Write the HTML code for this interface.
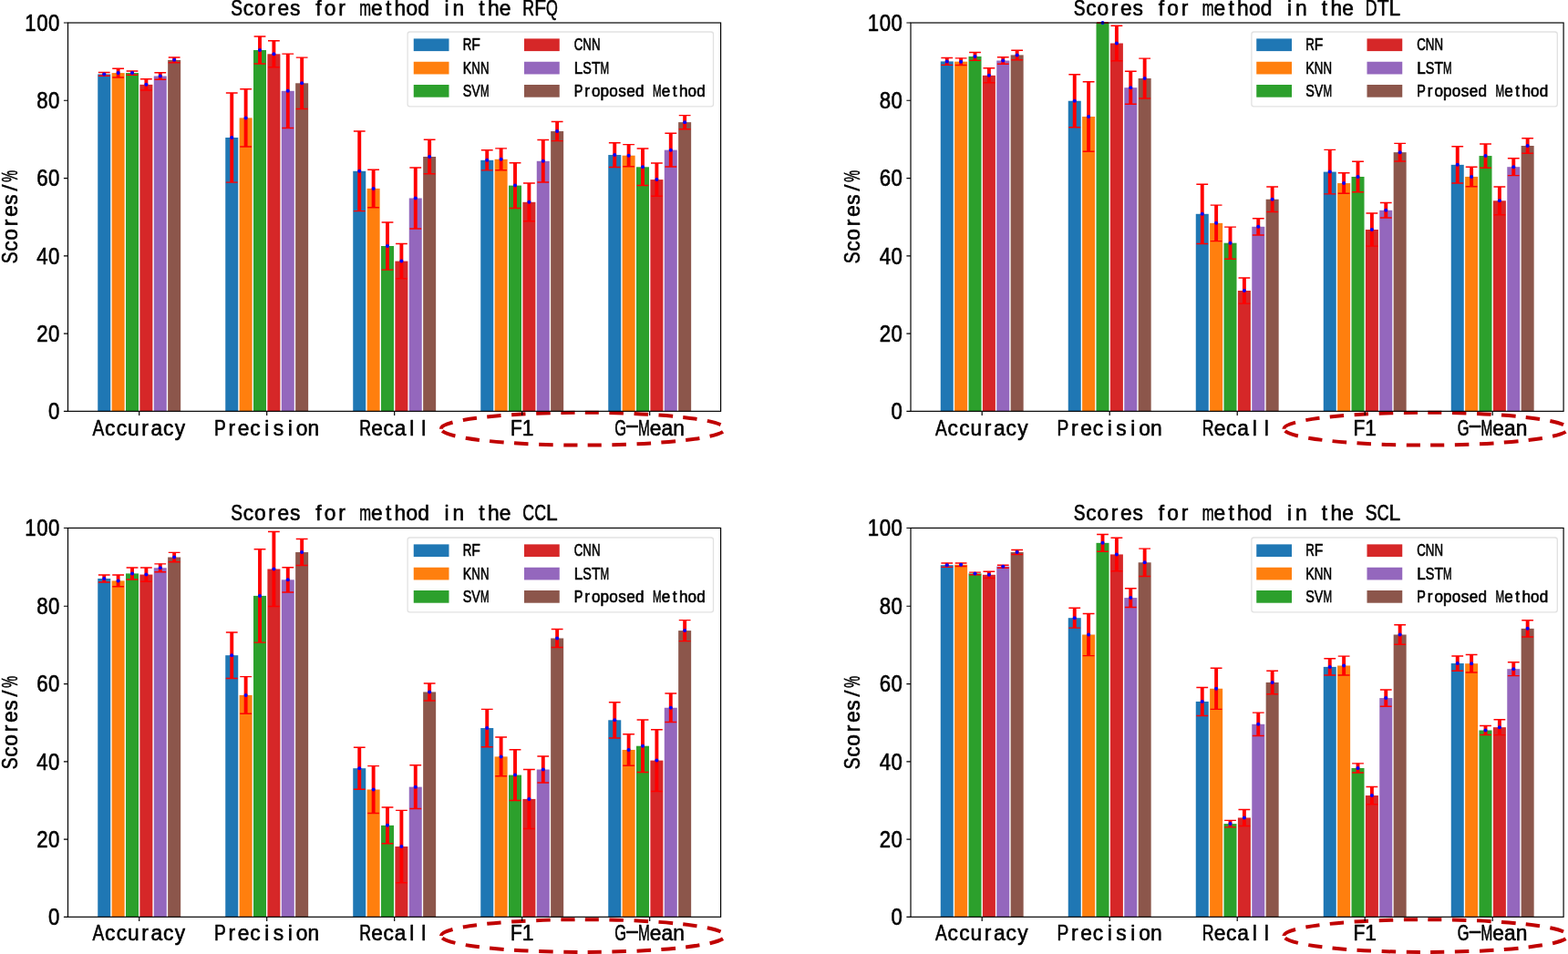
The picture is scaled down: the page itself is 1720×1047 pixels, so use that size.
<!DOCTYPE html>
<html lang="en"><head><meta charset="utf-8"><title>Scores for method</title>
<style>html,body{margin:0;padding:0;background:#fff}body{width:1720px;height:1047px;overflow:hidden}svg{display:block}.t text{font-family:"Liberation Sans", sans-serif;fill:#000;stroke:#000;stroke-width:0.62;stroke-linejoin:round;white-space:pre}</style>
</head><body>
<svg width="1720" height="1047" viewBox="0 0 1720 1047" role="img" aria-label="Scores for method in the RFQ, DTL, CCL and SCL">
<rect width="1720" height="1047" fill="#fff"/>
<g>
<g>
<rect x="107.25" y="81.4" width="14" height="369.95" fill="#1f77b4"/>
<rect x="247.25" y="151" width="14" height="300.35" fill="#1f77b4"/>
<rect x="387.25" y="187.8" width="14" height="263.55" fill="#1f77b4"/>
<rect x="527.25" y="175.8" width="14" height="275.55" fill="#1f77b4"/>
<rect x="667.25" y="170.05" width="14" height="281.3" fill="#1f77b4"/>
<rect x="122.63" y="80.1" width="14" height="371.25" fill="#ff7f0e"/>
<rect x="262.63" y="129.4" width="14" height="321.95" fill="#ff7f0e"/>
<rect x="402.63" y="206.9" width="14" height="244.45" fill="#ff7f0e"/>
<rect x="542.63" y="174.8" width="14" height="276.55" fill="#ff7f0e"/>
<rect x="682.63" y="170.7" width="14" height="280.65" fill="#ff7f0e"/>
<rect x="138.01" y="80.05" width="14" height="371.3" fill="#2ca02c"/>
<rect x="278.01" y="55" width="14" height="396.35" fill="#2ca02c"/>
<rect x="418.01" y="270" width="14" height="181.35" fill="#2ca02c"/>
<rect x="558.01" y="203.6" width="14" height="247.75" fill="#2ca02c"/>
<rect x="698.01" y="183.3" width="14" height="268.05" fill="#2ca02c"/>
<rect x="153.39" y="92.85" width="14" height="358.5" fill="#d62728"/>
<rect x="293.39" y="59.3" width="14" height="392.05" fill="#d62728"/>
<rect x="433.39" y="286.6" width="14" height="164.75" fill="#d62728"/>
<rect x="573.39" y="221.8" width="14" height="229.55" fill="#d62728"/>
<rect x="713.39" y="197.1" width="14" height="254.25" fill="#d62728"/>
<rect x="168.77" y="83.5" width="14" height="367.85" fill="#9467bd"/>
<rect x="308.77" y="99.8" width="14" height="351.55" fill="#9467bd"/>
<rect x="448.77" y="217.5" width="14" height="233.85" fill="#9467bd"/>
<rect x="588.77" y="176.8" width="14" height="274.55" fill="#9467bd"/>
<rect x="728.77" y="164.65" width="14" height="286.7" fill="#9467bd"/>
<rect x="184.15" y="65.85" width="14" height="385.5" fill="#8c564b"/>
<rect x="324.15" y="91.3" width="14" height="360.05" fill="#8c564b"/>
<rect x="464.15" y="172" width="14" height="279.35" fill="#8c564b"/>
<rect x="604.15" y="144.05" width="14" height="307.3" fill="#8c564b"/>
<rect x="744.15" y="134.15" width="14" height="317.2" fill="#8c564b"/>
</g>
<path d="M483.8 470.65A155.92 17.9 0 1 1 795.64 470.65A155.92 17.9 0 1 1 483.8 470.65" fill="none" stroke="#c00000" stroke-width="4" stroke-dasharray="15.33 11.53" stroke-dashoffset="0"/>
<g stroke="#f00" fill="none">
<path stroke-width="3.9" d="M114.25 79.47V83.33M254.25 101.9V200.1M394.25 144V231.6M534.25 164.75V186.85M674.25 156.65V183.45M129.63 75.17V85.03M269.63 97.8V161M409.63 186.15V227.65M549.63 162.85V186.75M689.63 158.6V182.8M145.01 77.92V82.18M285.01 40V70M425.01 243.9V296.1M565.01 178.7V228.5M705.01 163.05V203.55M160.39 86.75V98.95M300.39 44.8V73.8M440.39 267.5V305.7M580.39 200.9V242.7M720.39 179V215.2M175.77 79.8V87.2M315.77 59.1V140.5M455.77 184.05V250.95M595.77 153.55V200.05M735.77 146.25V183.05M191.15 63V68.7M331.15 63.1V119.5M471.15 153.2V190.8M611.15 133.5V154.6M751.15 126.6V141.7"/>
<path stroke-width="1.45" d="M107.85 79.47h12.8M107.85 83.33h12.8M247.85 101.9h12.8M247.85 200.1h12.8M387.85 144h12.8M387.85 231.6h12.8M527.85 164.75h12.8M527.85 186.85h12.8M667.85 156.65h12.8M667.85 183.45h12.8M123.23 75.17h12.8M123.23 85.03h12.8M263.23 97.8h12.8M263.23 161h12.8M403.23 186.15h12.8M403.23 227.65h12.8M543.23 162.85h12.8M543.23 186.75h12.8M683.23 158.6h12.8M683.23 182.8h12.8M138.61 77.92h12.8M138.61 82.18h12.8M278.61 40h12.8M278.61 70h12.8M418.61 243.9h12.8M418.61 296.1h12.8M558.61 178.7h12.8M558.61 228.5h12.8M698.61 163.05h12.8M698.61 203.55h12.8M153.99 86.75h12.8M153.99 98.95h12.8M293.99 44.8h12.8M293.99 73.8h12.8M433.99 267.5h12.8M433.99 305.7h12.8M573.99 200.9h12.8M573.99 242.7h12.8M713.99 179h12.8M713.99 215.2h12.8M169.37 79.8h12.8M169.37 87.2h12.8M309.37 59.1h12.8M309.37 140.5h12.8M449.37 184.05h12.8M449.37 250.95h12.8M589.37 153.55h12.8M589.37 200.05h12.8M729.37 146.25h12.8M729.37 183.05h12.8M184.75 63h12.8M184.75 68.7h12.8M324.75 63.1h12.8M324.75 119.5h12.8M464.75 153.2h12.8M464.75 190.8h12.8M604.75 133.5h12.8M604.75 154.6h12.8M744.75 126.6h12.8M744.75 141.7h12.8"/>
</g>
<g fill="#00f">
<circle cx="114.25" cy="81.4" r="2"/>
<circle cx="254.25" cy="151" r="2"/>
<circle cx="394.25" cy="187.8" r="2"/>
<circle cx="534.25" cy="175.8" r="2"/>
<circle cx="674.25" cy="170.05" r="2"/>
<circle cx="129.63" cy="80.1" r="2"/>
<circle cx="269.63" cy="129.4" r="2"/>
<circle cx="409.63" cy="206.9" r="2"/>
<circle cx="549.63" cy="174.8" r="2"/>
<circle cx="689.63" cy="170.7" r="2"/>
<circle cx="145.01" cy="80.05" r="2"/>
<circle cx="285.01" cy="55" r="2"/>
<circle cx="425.01" cy="270" r="2"/>
<circle cx="565.01" cy="203.6" r="2"/>
<circle cx="705.01" cy="183.3" r="2"/>
<circle cx="160.39" cy="92.85" r="2"/>
<circle cx="300.39" cy="59.3" r="2"/>
<circle cx="440.39" cy="286.6" r="2"/>
<circle cx="580.39" cy="221.8" r="2"/>
<circle cx="720.39" cy="197.1" r="2"/>
<circle cx="175.77" cy="83.5" r="2"/>
<circle cx="315.77" cy="99.8" r="2"/>
<circle cx="455.77" cy="217.5" r="2"/>
<circle cx="595.77" cy="176.8" r="2"/>
<circle cx="735.77" cy="164.65" r="2"/>
<circle cx="191.15" cy="65.85" r="2"/>
<circle cx="331.15" cy="91.3" r="2"/>
<circle cx="471.15" cy="172" r="2"/>
<circle cx="611.15" cy="144.05" r="2"/>
<circle cx="751.15" cy="134.15" r="2"/>
</g>
<path d="M152.7 451.35v4.6M292.7 451.35v4.6M432.7 451.35v4.6M572.7 451.35v4.6M712.7 451.35v4.6M74.5 451.35h-4.6M74.5 366.08h-4.6M74.5 280.81h-4.6M74.5 195.54h-4.6M74.5 110.27h-4.6M74.5 25h-4.6" stroke="#000" stroke-width="1.18" fill="none"/>
<rect x="74.5" y="25" width="716.1" height="426.35" fill="none" stroke="#000" stroke-width="1.18"/>
<rect x="447.1" y="35" width="335.4" height="81.9" rx="2.6" fill="#fff" fill-opacity="0.8" stroke="#d9d9d9" stroke-opacity="0.8" stroke-width="1.28"/>
<rect x="453.75" y="42.4" width="38.75" height="13.7" fill="#1f77b4"/>
<rect x="453.75" y="67.75" width="38.75" height="13.7" fill="#ff7f0e"/>
<rect x="453.75" y="93" width="38.75" height="13.7" fill="#2ca02c"/>
<rect x="575" y="42.4" width="38.75" height="13.7" fill="#d62728"/>
<rect x="575" y="67.75" width="38.75" height="13.7" fill="#9467bd"/>
<rect x="575" y="93" width="38.75" height="13.7" fill="#8c564b"/>
<g class="t">
<text transform="translate(507.7 55.3) scale(0.93 1)" x="0 10.32" font-size="18.4"><tspan textLength="10.32" lengthAdjust="spacingAndGlyphs">R</tspan><tspan textLength="10.32" lengthAdjust="spacingAndGlyphs">F</tspan></text>
<text transform="translate(507.7 80.6) scale(0.93 1)" x="0 10.32 20.65" font-size="18.4"><tspan textLength="10.32" lengthAdjust="spacingAndGlyphs">K</tspan><tspan textLength="10.32" lengthAdjust="spacingAndGlyphs">N</tspan><tspan textLength="10.32" lengthAdjust="spacingAndGlyphs">N</tspan></text>
<text transform="translate(507.7 106.3) scale(0.93 1)" x="0 10.32 20.65" font-size="18.4"><tspan textLength="10.32" lengthAdjust="spacingAndGlyphs">S</tspan><tspan textLength="10.32" lengthAdjust="spacingAndGlyphs">V</tspan><tspan textLength="10.32" lengthAdjust="spacingAndGlyphs">M</tspan></text>
<text transform="translate(629.7 55.3) scale(0.93 1)" x="0 10.32 20.65" font-size="18.4"><tspan textLength="10.32" lengthAdjust="spacingAndGlyphs">C</tspan><tspan textLength="10.32" lengthAdjust="spacingAndGlyphs">N</tspan><tspan textLength="10.32" lengthAdjust="spacingAndGlyphs">N</tspan></text>
<text transform="translate(629.7 80.6) scale(0.93 1)" x="0.04 10.32 20.65 30.97" font-size="18.4">L<tspan textLength="10.32" lengthAdjust="spacingAndGlyphs">S</tspan><tspan textLength="10.32" lengthAdjust="spacingAndGlyphs">T</tspan><tspan textLength="10.32" lengthAdjust="spacingAndGlyphs">M</tspan></text>
<text transform="translate(629.7 106.3) scale(0.93 1)" x="0 12.42 20.69 31.01 41.34 52.17 61.98 72.3 85.19 92.9 103.27 116.15 123.92 134.24 144.56" font-size="18.4"><tspan textLength="10.32" lengthAdjust="spacingAndGlyphs">P</tspan>roposed <tspan textLength="10.32" lengthAdjust="spacingAndGlyphs">M</tspan>ethod</text>
<text transform="translate(432.55 16.6) scale(0.93 1)" x="-192.69 -178.17 -165.09 -148.6 -137.57 -123.11 -106.63 -92.87 -82.51 -66.01 -51.58 -41.29 -27.46 -10.29 0.07 13.83 27.6 44.77 59.21 68.89 86.06 99.82 110.18 123.94 141.11 151.4 165.16 178.92" font-size="24.5"><tspan textLength="13.76" lengthAdjust="spacingAndGlyphs">S</tspan>cores for <tspan textLength="13.76" lengthAdjust="spacingAndGlyphs">m</tspan>ethod in the <tspan textLength="13.76" lengthAdjust="spacingAndGlyphs">R</tspan><tspan textLength="13.76" lengthAdjust="spacingAndGlyphs">F</tspan><tspan textLength="13.76" lengthAdjust="spacingAndGlyphs">Q</tspan></text>
<text transform="translate(152.7 477.95) scale(0.93 1)" x="-55.05 -40.53 -26.77 -13.69 2.8 13.83 28.28 42.05" font-size="24.5"><tspan textLength="13.76" lengthAdjust="spacingAndGlyphs">A</tspan>ccuracy</text>
<text transform="translate(292.7 477.95) scale(0.93 1)" x="-61.94 -45.37 -34.34 -19.89 -2.72 7.64 24.81 34.48 48.24" font-size="24.5"><tspan textLength="13.76" lengthAdjust="spacingAndGlyphs">P</tspan>recision</text>
<text transform="translate(432.7 477.95) scale(0.93 1)" x="-41.29 -27.46 -13.01 0.07 17.92 31.69" font-size="24.5"><tspan textLength="13.76" lengthAdjust="spacingAndGlyphs">R</tspan>ecall</text>
<text transform="translate(572.7 477.95) scale(0.93 1)" x="-13.76 0.07" font-size="24.5"><tspan textLength="13.76" lengthAdjust="spacingAndGlyphs">F</tspan>1</text>
<text transform="translate(712.7 477.95) scale(0.93 1)" x="-41.29 -29.25 -13.76 0.07 13.83 27.6" y="0 -3.55 0 0 0 0" font-size="24.5"><tspan textLength="13.76" lengthAdjust="spacingAndGlyphs">G</tspan><tspan textLength="17.2" lengthAdjust="spacingAndGlyphs">-</tspan><tspan textLength="13.76" lengthAdjust="spacingAndGlyphs">M</tspan>ean</text>
<text transform="translate(65.5 460.15) scale(0.87 1)" x="-14.45" font-size="25.5">0</text>
<text transform="translate(65.5 374.88) scale(0.87 1)" x="-29.16 -14.45" font-size="25.5">20</text>
<text transform="translate(65.5 289.61) scale(0.87 1)" x="-29.16 -14.45" font-size="25.5">40</text>
<text transform="translate(65.5 204.34) scale(0.87 1)" x="-29.16 -14.45" font-size="25.5">60</text>
<text transform="translate(65.5 119.07) scale(0.87 1)" x="-29.16 -14.45" font-size="25.5">80</text>
<text transform="translate(65.5 33.8) scale(0.87 1)" x="-43.87 -29.16 -14.45" font-size="25.5">100</text>
<text transform="translate(18.5 238.18) rotate(-90) scale(0.93 1)" x="-55.05 -40.53 -27.46 -10.96 0.07 14.52 30.28 41.29" font-size="24.5"><tspan textLength="13.76" lengthAdjust="spacingAndGlyphs">S</tspan>cores<tspan textLength="8.26" lengthAdjust="spacingAndGlyphs" stroke-width="0.15">/</tspan><tspan textLength="13.76" lengthAdjust="spacingAndGlyphs">%</tspan></text>
</g>
</g>
<g>
<g>
<rect x="1031.75" y="67.4" width="14" height="383.95" fill="#1f77b4"/>
<rect x="1171.75" y="110.75" width="14" height="340.6" fill="#1f77b4"/>
<rect x="1311.75" y="234.8" width="14" height="216.55" fill="#1f77b4"/>
<rect x="1451.75" y="188.6" width="14" height="262.75" fill="#1f77b4"/>
<rect x="1591.75" y="180.85" width="14" height="270.5" fill="#1f77b4"/>
<rect x="1047.13" y="67.65" width="14" height="383.7" fill="#ff7f0e"/>
<rect x="1187.13" y="128" width="14" height="323.35" fill="#ff7f0e"/>
<rect x="1327.13" y="244.85" width="14" height="206.5" fill="#ff7f0e"/>
<rect x="1467.13" y="201.05" width="14" height="250.3" fill="#ff7f0e"/>
<rect x="1607.13" y="193.95" width="14" height="257.4" fill="#ff7f0e"/>
<rect x="1062.51" y="61.95" width="14" height="389.4" fill="#2ca02c"/>
<rect x="1202.51" y="25" width="14" height="426.35" fill="#2ca02c"/>
<rect x="1342.51" y="266.7" width="14" height="184.65" fill="#2ca02c"/>
<rect x="1482.51" y="194" width="14" height="257.35" fill="#2ca02c"/>
<rect x="1622.51" y="171.05" width="14" height="280.3" fill="#2ca02c"/>
<rect x="1077.89" y="82.8" width="14" height="368.55" fill="#d62728"/>
<rect x="1217.89" y="47.5" width="14" height="403.85" fill="#d62728"/>
<rect x="1357.89" y="319" width="14" height="132.35" fill="#d62728"/>
<rect x="1497.89" y="252" width="14" height="199.35" fill="#d62728"/>
<rect x="1637.89" y="220.3" width="14" height="231.05" fill="#d62728"/>
<rect x="1093.27" y="66.5" width="14" height="384.85" fill="#9467bd"/>
<rect x="1233.27" y="96.2" width="14" height="355.15" fill="#9467bd"/>
<rect x="1373.27" y="248.8" width="14" height="202.55" fill="#9467bd"/>
<rect x="1513.27" y="230.8" width="14" height="220.55" fill="#9467bd"/>
<rect x="1653.27" y="183.2" width="14" height="268.15" fill="#9467bd"/>
<rect x="1108.65" y="60.4" width="14" height="390.95" fill="#8c564b"/>
<rect x="1248.65" y="86" width="14" height="365.35" fill="#8c564b"/>
<rect x="1388.65" y="218.75" width="14" height="232.6" fill="#8c564b"/>
<rect x="1528.65" y="167.15" width="14" height="284.2" fill="#8c564b"/>
<rect x="1668.65" y="160" width="14" height="291.35" fill="#8c564b"/>
</g>
<path d="M1408.3 470.65A155.92 17.9 0 1 1 1720.14 470.65A155.92 17.9 0 1 1 1408.3 470.65" fill="none" stroke="#c00000" stroke-width="4" stroke-dasharray="15.33 11.53" stroke-dashoffset="0"/>
<g stroke="#f00" fill="none">
<path stroke-width="3.9" d="M1038.75 63.45V71.35M1178.75 81.75V139.75M1318.75 202.2V267.4M1458.75 164.35V212.85M1598.75 160.65V201.05M1054.13 63.85V71.45M1194.13 89.75V166.25M1334.13 225.1V264.6M1474.13 189.8V212.3M1614.13 183.2V204.7M1069.51 57.55V66.35M1349.51 249.1V284.3M1489.51 177.2V210.8M1629.51 157.95V184.15M1084.89 74.8V90.8M1224.89 28.25V66.75M1364.89 304.9V333.1M1504.89 233.9V270.1M1644.89 204.9V235.7M1100.27 62.75V70.25M1240.27 78.15V114.25M1380.27 239.7V257.9M1520.27 222.55V239.05M1660.27 173.8V192.6M1115.65 55.15V65.65M1255.65 64.1V107.9M1395.65 205V232.5M1535.65 157.35V176.95M1675.65 151.7V168.3"/>
<path stroke-width="1.45" d="M1032.35 63.45h12.8M1032.35 71.35h12.8M1172.35 81.75h12.8M1172.35 139.75h12.8M1312.35 202.2h12.8M1312.35 267.4h12.8M1452.35 164.35h12.8M1452.35 212.85h12.8M1592.35 160.65h12.8M1592.35 201.05h12.8M1047.73 63.85h12.8M1047.73 71.45h12.8M1187.73 89.75h12.8M1187.73 166.25h12.8M1327.73 225.1h12.8M1327.73 264.6h12.8M1467.73 189.8h12.8M1467.73 212.3h12.8M1607.73 183.2h12.8M1607.73 204.7h12.8M1063.11 57.55h12.8M1063.11 66.35h12.8M1203.11 25h12.8M1203.11 25h12.8M1343.11 249.1h12.8M1343.11 284.3h12.8M1483.11 177.2h12.8M1483.11 210.8h12.8M1623.11 157.95h12.8M1623.11 184.15h12.8M1078.49 74.8h12.8M1078.49 90.8h12.8M1218.49 28.25h12.8M1218.49 66.75h12.8M1358.49 304.9h12.8M1358.49 333.1h12.8M1498.49 233.9h12.8M1498.49 270.1h12.8M1638.49 204.9h12.8M1638.49 235.7h12.8M1093.87 62.75h12.8M1093.87 70.25h12.8M1233.87 78.15h12.8M1233.87 114.25h12.8M1373.87 239.7h12.8M1373.87 257.9h12.8M1513.87 222.55h12.8M1513.87 239.05h12.8M1653.87 173.8h12.8M1653.87 192.6h12.8M1109.25 55.15h12.8M1109.25 65.65h12.8M1249.25 64.1h12.8M1249.25 107.9h12.8M1389.25 205h12.8M1389.25 232.5h12.8M1529.25 157.35h12.8M1529.25 176.95h12.8M1669.25 151.7h12.8M1669.25 168.3h12.8"/>
</g>
<g fill="#00f">
<circle cx="1038.75" cy="67.4" r="2"/>
<circle cx="1178.75" cy="110.75" r="2"/>
<circle cx="1318.75" cy="234.8" r="2"/>
<circle cx="1458.75" cy="188.6" r="2"/>
<circle cx="1598.75" cy="180.85" r="2"/>
<circle cx="1054.13" cy="67.65" r="2"/>
<circle cx="1194.13" cy="128" r="2"/>
<circle cx="1334.13" cy="244.85" r="2"/>
<circle cx="1474.13" cy="201.05" r="2"/>
<circle cx="1614.13" cy="193.95" r="2"/>
<circle cx="1069.51" cy="61.95" r="2"/>
<circle cx="1209.51" cy="25" r="2"/>
<circle cx="1349.51" cy="266.7" r="2"/>
<circle cx="1489.51" cy="194" r="2"/>
<circle cx="1629.51" cy="171.05" r="2"/>
<circle cx="1084.89" cy="82.8" r="2"/>
<circle cx="1224.89" cy="47.5" r="2"/>
<circle cx="1364.89" cy="319" r="2"/>
<circle cx="1504.89" cy="252" r="2"/>
<circle cx="1644.89" cy="220.3" r="2"/>
<circle cx="1100.27" cy="66.5" r="2"/>
<circle cx="1240.27" cy="96.2" r="2"/>
<circle cx="1380.27" cy="248.8" r="2"/>
<circle cx="1520.27" cy="230.8" r="2"/>
<circle cx="1660.27" cy="183.2" r="2"/>
<circle cx="1115.65" cy="60.4" r="2"/>
<circle cx="1255.65" cy="86" r="2"/>
<circle cx="1395.65" cy="218.75" r="2"/>
<circle cx="1535.65" cy="167.15" r="2"/>
<circle cx="1675.65" cy="160" r="2"/>
</g>
<path d="M1077.2 451.35v4.6M1217.2 451.35v4.6M1357.2 451.35v4.6M1497.2 451.35v4.6M1637.2 451.35v4.6M999 451.35h-4.6M999 366.08h-4.6M999 280.81h-4.6M999 195.54h-4.6M999 110.27h-4.6M999 25h-4.6" stroke="#000" stroke-width="1.18" fill="none"/>
<rect x="999" y="25" width="716.1" height="426.35" fill="none" stroke="#000" stroke-width="1.18"/>
<rect x="1372.9" y="35" width="335.4" height="81.9" rx="2.6" fill="#fff" fill-opacity="0.8" stroke="#d9d9d9" stroke-opacity="0.8" stroke-width="1.28"/>
<rect x="1378.25" y="42.4" width="38.75" height="13.7" fill="#1f77b4"/>
<rect x="1378.25" y="67.75" width="38.75" height="13.7" fill="#ff7f0e"/>
<rect x="1378.25" y="93" width="38.75" height="13.7" fill="#2ca02c"/>
<rect x="1499.5" y="42.4" width="38.75" height="13.7" fill="#d62728"/>
<rect x="1499.5" y="67.75" width="38.75" height="13.7" fill="#9467bd"/>
<rect x="1499.5" y="93" width="38.75" height="13.7" fill="#8c564b"/>
<g class="t">
<text transform="translate(1432.2 55.3) scale(0.93 1)" x="0 10.32" font-size="18.4"><tspan textLength="10.32" lengthAdjust="spacingAndGlyphs">R</tspan><tspan textLength="10.32" lengthAdjust="spacingAndGlyphs">F</tspan></text>
<text transform="translate(1432.2 80.6) scale(0.93 1)" x="0 10.32 20.65" font-size="18.4"><tspan textLength="10.32" lengthAdjust="spacingAndGlyphs">K</tspan><tspan textLength="10.32" lengthAdjust="spacingAndGlyphs">N</tspan><tspan textLength="10.32" lengthAdjust="spacingAndGlyphs">N</tspan></text>
<text transform="translate(1432.2 106.3) scale(0.93 1)" x="0 10.32 20.65" font-size="18.4"><tspan textLength="10.32" lengthAdjust="spacingAndGlyphs">S</tspan><tspan textLength="10.32" lengthAdjust="spacingAndGlyphs">V</tspan><tspan textLength="10.32" lengthAdjust="spacingAndGlyphs">M</tspan></text>
<text transform="translate(1554.2 55.3) scale(0.93 1)" x="0 10.32 20.65" font-size="18.4"><tspan textLength="10.32" lengthAdjust="spacingAndGlyphs">C</tspan><tspan textLength="10.32" lengthAdjust="spacingAndGlyphs">N</tspan><tspan textLength="10.32" lengthAdjust="spacingAndGlyphs">N</tspan></text>
<text transform="translate(1554.2 80.6) scale(0.93 1)" x="0.04 10.32 20.65 30.97" font-size="18.4">L<tspan textLength="10.32" lengthAdjust="spacingAndGlyphs">S</tspan><tspan textLength="10.32" lengthAdjust="spacingAndGlyphs">T</tspan><tspan textLength="10.32" lengthAdjust="spacingAndGlyphs">M</tspan></text>
<text transform="translate(1554.2 106.3) scale(0.93 1)" x="0 12.42 20.69 31.01 41.34 52.17 61.98 72.3 85.19 92.9 103.27 116.15 123.92 134.24 144.56" font-size="18.4"><tspan textLength="10.32" lengthAdjust="spacingAndGlyphs">P</tspan>roposed <tspan textLength="10.32" lengthAdjust="spacingAndGlyphs">M</tspan>ethod</text>
<text transform="translate(1357.05 16.6) scale(0.93 1)" x="-192.69 -178.17 -165.09 -148.6 -137.57 -123.11 -106.63 -92.87 -82.51 -66.01 -51.58 -41.29 -27.46 -10.29 0.07 13.83 27.6 44.77 59.21 68.89 86.06 99.82 110.18 123.94 141.11 151.4 165.16 178.99" font-size="24.5"><tspan textLength="13.76" lengthAdjust="spacingAndGlyphs">S</tspan>cores for <tspan textLength="13.76" lengthAdjust="spacingAndGlyphs">m</tspan>ethod in the <tspan textLength="13.76" lengthAdjust="spacingAndGlyphs">D</tspan><tspan textLength="13.76" lengthAdjust="spacingAndGlyphs">T</tspan>L</text>
<text transform="translate(1077.2 477.95) scale(0.93 1)" x="-55.05 -40.53 -26.77 -13.69 2.8 13.83 28.28 42.05" font-size="24.5"><tspan textLength="13.76" lengthAdjust="spacingAndGlyphs">A</tspan>ccuracy</text>
<text transform="translate(1217.2 477.95) scale(0.93 1)" x="-61.94 -45.37 -34.34 -19.89 -2.72 7.64 24.81 34.48 48.24" font-size="24.5"><tspan textLength="13.76" lengthAdjust="spacingAndGlyphs">P</tspan>recision</text>
<text transform="translate(1357.2 477.95) scale(0.93 1)" x="-41.29 -27.46 -13.01 0.07 17.92 31.69" font-size="24.5"><tspan textLength="13.76" lengthAdjust="spacingAndGlyphs">R</tspan>ecall</text>
<text transform="translate(1497.2 477.95) scale(0.93 1)" x="-13.76 0.07" font-size="24.5"><tspan textLength="13.76" lengthAdjust="spacingAndGlyphs">F</tspan>1</text>
<text transform="translate(1637.2 477.95) scale(0.93 1)" x="-41.29 -29.25 -13.76 0.07 13.83 27.6" y="0 -3.55 0 0 0 0" font-size="24.5"><tspan textLength="13.76" lengthAdjust="spacingAndGlyphs">G</tspan><tspan textLength="17.2" lengthAdjust="spacingAndGlyphs">-</tspan><tspan textLength="13.76" lengthAdjust="spacingAndGlyphs">M</tspan>ean</text>
<text transform="translate(990 460.15) scale(0.87 1)" x="-14.45" font-size="25.5">0</text>
<text transform="translate(990 374.88) scale(0.87 1)" x="-29.16 -14.45" font-size="25.5">20</text>
<text transform="translate(990 289.61) scale(0.87 1)" x="-29.16 -14.45" font-size="25.5">40</text>
<text transform="translate(990 204.34) scale(0.87 1)" x="-29.16 -14.45" font-size="25.5">60</text>
<text transform="translate(990 119.07) scale(0.87 1)" x="-29.16 -14.45" font-size="25.5">80</text>
<text transform="translate(990 33.8) scale(0.87 1)" x="-43.87 -29.16 -14.45" font-size="25.5">100</text>
<text transform="translate(943 238.18) rotate(-90) scale(0.93 1)" x="-55.05 -40.53 -27.46 -10.96 0.07 14.52 30.28 41.29" font-size="24.5"><tspan textLength="13.76" lengthAdjust="spacingAndGlyphs">S</tspan>cores<tspan textLength="8.26" lengthAdjust="spacingAndGlyphs" stroke-width="0.15">/</tspan><tspan textLength="13.76" lengthAdjust="spacingAndGlyphs">%</tspan></text>
</g>
</g>
<g>
<g>
<rect x="107.25" y="634.95" width="14" height="371.4" fill="#1f77b4"/>
<rect x="247.25" y="719.2" width="14" height="287.15" fill="#1f77b4"/>
<rect x="387.25" y="843.2" width="14" height="163.15" fill="#1f77b4"/>
<rect x="527.25" y="799.05" width="14" height="207.3" fill="#1f77b4"/>
<rect x="667.25" y="790.3" width="14" height="216.05" fill="#1f77b4"/>
<rect x="122.63" y="637.4" width="14" height="368.95" fill="#ff7f0e"/>
<rect x="262.63" y="762.9" width="14" height="243.45" fill="#ff7f0e"/>
<rect x="402.63" y="866.5" width="14" height="139.85" fill="#ff7f0e"/>
<rect x="542.63" y="830.4" width="14" height="175.95" fill="#ff7f0e"/>
<rect x="682.63" y="822.95" width="14" height="183.4" fill="#ff7f0e"/>
<rect x="138.01" y="629.4" width="14" height="376.95" fill="#2ca02c"/>
<rect x="278.01" y="653.9" width="14" height="352.45" fill="#2ca02c"/>
<rect x="418.01" y="905.85" width="14" height="100.5" fill="#2ca02c"/>
<rect x="558.01" y="850.6" width="14" height="155.75" fill="#2ca02c"/>
<rect x="698.01" y="818.7" width="14" height="187.65" fill="#2ca02c"/>
<rect x="153.39" y="630.55" width="14" height="375.8" fill="#d62728"/>
<rect x="293.39" y="624.5" width="14" height="381.85" fill="#d62728"/>
<rect x="433.39" y="929.05" width="14" height="77.3" fill="#d62728"/>
<rect x="573.39" y="876.9" width="14" height="129.45" fill="#d62728"/>
<rect x="713.39" y="834.6" width="14" height="171.75" fill="#d62728"/>
<rect x="168.77" y="623.25" width="14" height="383.1" fill="#9467bd"/>
<rect x="308.77" y="636.3" width="14" height="370.05" fill="#9467bd"/>
<rect x="448.77" y="863.65" width="14" height="142.7" fill="#9467bd"/>
<rect x="588.77" y="844.5" width="14" height="161.85" fill="#9467bd"/>
<rect x="728.77" y="776.75" width="14" height="229.6" fill="#9467bd"/>
<rect x="184.15" y="611.55" width="14" height="394.8" fill="#8c564b"/>
<rect x="324.15" y="606.05" width="14" height="400.3" fill="#8c564b"/>
<rect x="464.15" y="759.45" width="14" height="246.9" fill="#8c564b"/>
<rect x="604.15" y="700.5" width="14" height="305.85" fill="#8c564b"/>
<rect x="744.15" y="692.1" width="14" height="314.25" fill="#8c564b"/>
</g>
<path d="M483.8 1027.05A155.92 17.9 0 1 1 795.64 1027.05A155.92 17.9 0 1 1 483.8 1027.05" fill="none" stroke="#c00000" stroke-width="4" stroke-dasharray="15.33 11.53" stroke-dashoffset="0"/>
<g stroke="#f00" fill="none">
<path stroke-width="3.9" d="M114.25 630.9V639M254.25 693.95V744.45M394.25 820.2V866.2M534.25 778.35V819.75M674.25 770.7V809.9M129.63 631V643.8M269.63 742.6V783.2M409.63 840.6V892.4M549.63 809V851.8M689.63 805.7V840.2M145.01 622.9V635.9M285.01 602.7V705.1M425.01 886.05V925.65M565.01 822.8V878.4M705.01 789.9V847.5M160.39 622.95V638.15M300.39 583.45V665.55M440.39 889.35V968.75M580.39 844.4V909.4M720.39 800.7V868.5M175.77 618.85V627.65M315.77 622.7V649.9M455.77 839.75V887.55M595.77 830V859M735.77 761.05V792.45M191.15 606.35V616.75M331.15 591.55V620.55M471.15 749.9V769M611.15 690.5V710.5M751.15 680.6V703.6"/>
<path stroke-width="1.45" d="M107.85 630.9h12.8M107.85 639h12.8M247.85 693.95h12.8M247.85 744.45h12.8M387.85 820.2h12.8M387.85 866.2h12.8M527.85 778.35h12.8M527.85 819.75h12.8M667.85 770.7h12.8M667.85 809.9h12.8M123.23 631h12.8M123.23 643.8h12.8M263.23 742.6h12.8M263.23 783.2h12.8M403.23 840.6h12.8M403.23 892.4h12.8M543.23 809h12.8M543.23 851.8h12.8M683.23 805.7h12.8M683.23 840.2h12.8M138.61 622.9h12.8M138.61 635.9h12.8M278.61 602.7h12.8M278.61 705.1h12.8M418.61 886.05h12.8M418.61 925.65h12.8M558.61 822.8h12.8M558.61 878.4h12.8M698.61 789.9h12.8M698.61 847.5h12.8M153.99 622.95h12.8M153.99 638.15h12.8M293.99 583.45h12.8M293.99 665.55h12.8M433.99 889.35h12.8M433.99 968.75h12.8M573.99 844.4h12.8M573.99 909.4h12.8M713.99 800.7h12.8M713.99 868.5h12.8M169.37 618.85h12.8M169.37 627.65h12.8M309.37 622.7h12.8M309.37 649.9h12.8M449.37 839.75h12.8M449.37 887.55h12.8M589.37 830h12.8M589.37 859h12.8M729.37 761.05h12.8M729.37 792.45h12.8M184.75 606.35h12.8M184.75 616.75h12.8M324.75 591.55h12.8M324.75 620.55h12.8M464.75 749.9h12.8M464.75 769h12.8M604.75 690.5h12.8M604.75 710.5h12.8M744.75 680.6h12.8M744.75 703.6h12.8"/>
</g>
<g fill="#00f">
<circle cx="114.25" cy="634.95" r="2"/>
<circle cx="254.25" cy="719.2" r="2"/>
<circle cx="394.25" cy="843.2" r="2"/>
<circle cx="534.25" cy="799.05" r="2"/>
<circle cx="674.25" cy="790.3" r="2"/>
<circle cx="129.63" cy="637.4" r="2"/>
<circle cx="269.63" cy="762.9" r="2"/>
<circle cx="409.63" cy="866.5" r="2"/>
<circle cx="549.63" cy="830.4" r="2"/>
<circle cx="689.63" cy="822.95" r="2"/>
<circle cx="145.01" cy="629.4" r="2"/>
<circle cx="285.01" cy="653.9" r="2"/>
<circle cx="425.01" cy="905.85" r="2"/>
<circle cx="565.01" cy="850.6" r="2"/>
<circle cx="705.01" cy="818.7" r="2"/>
<circle cx="160.39" cy="630.55" r="2"/>
<circle cx="300.39" cy="624.5" r="2"/>
<circle cx="440.39" cy="929.05" r="2"/>
<circle cx="580.39" cy="876.9" r="2"/>
<circle cx="720.39" cy="834.6" r="2"/>
<circle cx="175.77" cy="623.25" r="2"/>
<circle cx="315.77" cy="636.3" r="2"/>
<circle cx="455.77" cy="863.65" r="2"/>
<circle cx="595.77" cy="844.5" r="2"/>
<circle cx="735.77" cy="776.75" r="2"/>
<circle cx="191.15" cy="611.55" r="2"/>
<circle cx="331.15" cy="606.05" r="2"/>
<circle cx="471.15" cy="759.45" r="2"/>
<circle cx="611.15" cy="700.5" r="2"/>
<circle cx="751.15" cy="692.1" r="2"/>
</g>
<path d="M152.7 1006.35v4.6M292.7 1006.35v4.6M432.7 1006.35v4.6M572.7 1006.35v4.6M712.7 1006.35v4.6M74.5 1006.35h-4.6M74.5 921.08h-4.6M74.5 835.81h-4.6M74.5 750.54h-4.6M74.5 665.27h-4.6M74.5 579.5h-4.6" stroke="#000" stroke-width="1.18" fill="none"/>
<rect x="74.5" y="579.5" width="716.1" height="426.85" fill="none" stroke="#000" stroke-width="1.18"/>
<rect x="447.1" y="590" width="335.4" height="81.9" rx="2.6" fill="#fff" fill-opacity="0.8" stroke="#d9d9d9" stroke-opacity="0.8" stroke-width="1.28"/>
<rect x="453.75" y="597.4" width="38.75" height="13.7" fill="#1f77b4"/>
<rect x="453.75" y="622.75" width="38.75" height="13.7" fill="#ff7f0e"/>
<rect x="453.75" y="648" width="38.75" height="13.7" fill="#2ca02c"/>
<rect x="575" y="597.4" width="38.75" height="13.7" fill="#d62728"/>
<rect x="575" y="622.75" width="38.75" height="13.7" fill="#9467bd"/>
<rect x="575" y="648" width="38.75" height="13.7" fill="#8c564b"/>
<g class="t">
<text transform="translate(507.7 610.3) scale(0.93 1)" x="0 10.32" font-size="18.4"><tspan textLength="10.32" lengthAdjust="spacingAndGlyphs">R</tspan><tspan textLength="10.32" lengthAdjust="spacingAndGlyphs">F</tspan></text>
<text transform="translate(507.7 635.6) scale(0.93 1)" x="0 10.32 20.65" font-size="18.4"><tspan textLength="10.32" lengthAdjust="spacingAndGlyphs">K</tspan><tspan textLength="10.32" lengthAdjust="spacingAndGlyphs">N</tspan><tspan textLength="10.32" lengthAdjust="spacingAndGlyphs">N</tspan></text>
<text transform="translate(507.7 661.3) scale(0.93 1)" x="0 10.32 20.65" font-size="18.4"><tspan textLength="10.32" lengthAdjust="spacingAndGlyphs">S</tspan><tspan textLength="10.32" lengthAdjust="spacingAndGlyphs">V</tspan><tspan textLength="10.32" lengthAdjust="spacingAndGlyphs">M</tspan></text>
<text transform="translate(629.7 610.3) scale(0.93 1)" x="0 10.32 20.65" font-size="18.4"><tspan textLength="10.32" lengthAdjust="spacingAndGlyphs">C</tspan><tspan textLength="10.32" lengthAdjust="spacingAndGlyphs">N</tspan><tspan textLength="10.32" lengthAdjust="spacingAndGlyphs">N</tspan></text>
<text transform="translate(629.7 635.6) scale(0.93 1)" x="0.04 10.32 20.65 30.97" font-size="18.4">L<tspan textLength="10.32" lengthAdjust="spacingAndGlyphs">S</tspan><tspan textLength="10.32" lengthAdjust="spacingAndGlyphs">T</tspan><tspan textLength="10.32" lengthAdjust="spacingAndGlyphs">M</tspan></text>
<text transform="translate(629.7 661.3) scale(0.93 1)" x="0 12.42 20.69 31.01 41.34 52.17 61.98 72.3 85.19 92.9 103.27 116.15 123.92 134.24 144.56" font-size="18.4"><tspan textLength="10.32" lengthAdjust="spacingAndGlyphs">P</tspan>roposed <tspan textLength="10.32" lengthAdjust="spacingAndGlyphs">M</tspan>ethod</text>
<text transform="translate(432.55 570.9) scale(0.93 1)" x="-192.69 -178.17 -165.09 -148.6 -137.57 -123.11 -106.63 -92.87 -82.51 -66.01 -51.58 -41.29 -27.46 -10.29 0.07 13.83 27.6 44.77 59.21 68.89 86.06 99.82 110.18 123.94 141.11 151.4 165.16 178.99" font-size="24.5"><tspan textLength="13.76" lengthAdjust="spacingAndGlyphs">S</tspan>cores for <tspan textLength="13.76" lengthAdjust="spacingAndGlyphs">m</tspan>ethod in the <tspan textLength="13.76" lengthAdjust="spacingAndGlyphs">C</tspan><tspan textLength="13.76" lengthAdjust="spacingAndGlyphs">C</tspan>L</text>
<text transform="translate(152.7 1032.35) scale(0.93 1)" x="-55.05 -40.53 -26.77 -13.69 2.8 13.83 28.28 42.05" font-size="24.5"><tspan textLength="13.76" lengthAdjust="spacingAndGlyphs">A</tspan>ccuracy</text>
<text transform="translate(292.7 1032.35) scale(0.93 1)" x="-61.94 -45.37 -34.34 -19.89 -2.72 7.64 24.81 34.48 48.24" font-size="24.5"><tspan textLength="13.76" lengthAdjust="spacingAndGlyphs">P</tspan>recision</text>
<text transform="translate(432.7 1032.35) scale(0.93 1)" x="-41.29 -27.46 -13.01 0.07 17.92 31.69" font-size="24.5"><tspan textLength="13.76" lengthAdjust="spacingAndGlyphs">R</tspan>ecall</text>
<text transform="translate(572.7 1032.35) scale(0.93 1)" x="-13.76 0.07" font-size="24.5"><tspan textLength="13.76" lengthAdjust="spacingAndGlyphs">F</tspan>1</text>
<text transform="translate(712.7 1032.35) scale(0.93 1)" x="-41.29 -29.25 -13.76 0.07 13.83 27.6" y="0 -3.55 0 0 0 0" font-size="24.5"><tspan textLength="13.76" lengthAdjust="spacingAndGlyphs">G</tspan><tspan textLength="17.2" lengthAdjust="spacingAndGlyphs">-</tspan><tspan textLength="13.76" lengthAdjust="spacingAndGlyphs">M</tspan>ean</text>
<text transform="translate(65.5 1015.15) scale(0.87 1)" x="-14.45" font-size="25.5">0</text>
<text transform="translate(65.5 929.88) scale(0.87 1)" x="-29.16 -14.45" font-size="25.5">20</text>
<text transform="translate(65.5 844.61) scale(0.87 1)" x="-29.16 -14.45" font-size="25.5">40</text>
<text transform="translate(65.5 759.34) scale(0.87 1)" x="-29.16 -14.45" font-size="25.5">60</text>
<text transform="translate(65.5 674.07) scale(0.87 1)" x="-29.16 -14.45" font-size="25.5">80</text>
<text transform="translate(65.5 588.3) scale(0.87 1)" x="-43.87 -29.16 -14.45" font-size="25.5">100</text>
<text transform="translate(18.5 793.17) rotate(-90) scale(0.93 1)" x="-55.05 -40.53 -27.46 -10.96 0.07 14.52 30.28 41.29" font-size="24.5"><tspan textLength="13.76" lengthAdjust="spacingAndGlyphs">S</tspan>cores<tspan textLength="8.26" lengthAdjust="spacingAndGlyphs" stroke-width="0.15">/</tspan><tspan textLength="13.76" lengthAdjust="spacingAndGlyphs">%</tspan></text>
</g>
</g>
<g>
<g>
<rect x="1031.75" y="620.2" width="14" height="386.15" fill="#1f77b4"/>
<rect x="1171.75" y="678.2" width="14" height="328.15" fill="#1f77b4"/>
<rect x="1311.75" y="769.95" width="14" height="236.4" fill="#1f77b4"/>
<rect x="1451.75" y="731.9" width="14" height="274.45" fill="#1f77b4"/>
<rect x="1591.75" y="728.05" width="14" height="278.3" fill="#1f77b4"/>
<rect x="1047.13" y="619.75" width="14" height="386.6" fill="#ff7f0e"/>
<rect x="1187.13" y="696.5" width="14" height="309.85" fill="#ff7f0e"/>
<rect x="1327.13" y="755.75" width="14" height="250.6" fill="#ff7f0e"/>
<rect x="1467.13" y="730.5" width="14" height="275.85" fill="#ff7f0e"/>
<rect x="1607.13" y="728.25" width="14" height="278.1" fill="#ff7f0e"/>
<rect x="1062.51" y="629.4" width="14" height="376.95" fill="#2ca02c"/>
<rect x="1202.51" y="595.85" width="14" height="410.5" fill="#2ca02c"/>
<rect x="1342.51" y="904.1" width="14" height="102.25" fill="#2ca02c"/>
<rect x="1482.51" y="842.95" width="14" height="163.4" fill="#2ca02c"/>
<rect x="1622.51" y="801.5" width="14" height="204.85" fill="#2ca02c"/>
<rect x="1077.89" y="630.8" width="14" height="375.55" fill="#d62728"/>
<rect x="1217.89" y="608.45" width="14" height="397.9" fill="#d62728"/>
<rect x="1357.89" y="897.45" width="14" height="108.9" fill="#d62728"/>
<rect x="1497.89" y="873.05" width="14" height="133.3" fill="#d62728"/>
<rect x="1637.89" y="798.2" width="14" height="208.15" fill="#d62728"/>
<rect x="1093.27" y="621.65" width="14" height="384.7" fill="#9467bd"/>
<rect x="1233.27" y="656.1" width="14" height="350.25" fill="#9467bd"/>
<rect x="1373.27" y="794.8" width="14" height="211.55" fill="#9467bd"/>
<rect x="1513.27" y="766.1" width="14" height="240.25" fill="#9467bd"/>
<rect x="1653.27" y="734.2" width="14" height="272.15" fill="#9467bd"/>
<rect x="1108.65" y="606" width="14" height="400.35" fill="#8c564b"/>
<rect x="1248.65" y="617.3" width="14" height="389.05" fill="#8c564b"/>
<rect x="1388.65" y="748.95" width="14" height="257.4" fill="#8c564b"/>
<rect x="1528.65" y="696.5" width="14" height="309.85" fill="#8c564b"/>
<rect x="1668.65" y="689.85" width="14" height="316.5" fill="#8c564b"/>
</g>
<path d="M1408.3 1027.05A155.92 17.9 0 1 1 1720.14 1027.05A155.92 17.9 0 1 1 1408.3 1027.05" fill="none" stroke="#c00000" stroke-width="4" stroke-dasharray="15.33 11.53" stroke-dashoffset="0"/>
<g stroke="#f00" fill="none">
<path stroke-width="3.9" d="M1038.75 618.05V622.35M1178.75 667.3V689.1M1318.75 754.45V785.45M1458.75 722.8V741M1598.75 719.95V736.15M1054.13 617.95V621.55M1194.13 673.4V719.6M1334.13 733.15V778.35M1474.13 720.1V740.9M1614.13 718.5V738M1069.51 628.1V630.7M1209.51 586.55V605.15M1349.51 900.35V907.85M1489.51 837.85V848.05M1629.51 796.45V806.55M1084.89 627.2V634.4M1224.89 590.15V626.75M1364.89 888.4V906.5M1504.89 863.45V882.65M1644.89 789.8V806.6M1100.27 620.15V623.15M1240.27 645.7V666.5M1380.27 782.1V807.5M1520.27 757.05V775.15M1660.27 726.8V741.6M1115.65 603.55V608.45M1255.65 602.1V632.5M1395.65 736.2V761.7M1535.65 685.75V707.25M1675.65 680.65V699.05"/>
<path stroke-width="1.45" d="M1032.35 618.05h12.8M1032.35 622.35h12.8M1172.35 667.3h12.8M1172.35 689.1h12.8M1312.35 754.45h12.8M1312.35 785.45h12.8M1452.35 722.8h12.8M1452.35 741h12.8M1592.35 719.95h12.8M1592.35 736.15h12.8M1047.73 617.95h12.8M1047.73 621.55h12.8M1187.73 673.4h12.8M1187.73 719.6h12.8M1327.73 733.15h12.8M1327.73 778.35h12.8M1467.73 720.1h12.8M1467.73 740.9h12.8M1607.73 718.5h12.8M1607.73 738h12.8M1063.11 628.1h12.8M1063.11 630.7h12.8M1203.11 586.55h12.8M1203.11 605.15h12.8M1343.11 900.35h12.8M1343.11 907.85h12.8M1483.11 837.85h12.8M1483.11 848.05h12.8M1623.11 796.45h12.8M1623.11 806.55h12.8M1078.49 627.2h12.8M1078.49 634.4h12.8M1218.49 590.15h12.8M1218.49 626.75h12.8M1358.49 888.4h12.8M1358.49 906.5h12.8M1498.49 863.45h12.8M1498.49 882.65h12.8M1638.49 789.8h12.8M1638.49 806.6h12.8M1093.87 620.15h12.8M1093.87 623.15h12.8M1233.87 645.7h12.8M1233.87 666.5h12.8M1373.87 782.1h12.8M1373.87 807.5h12.8M1513.87 757.05h12.8M1513.87 775.15h12.8M1653.87 726.8h12.8M1653.87 741.6h12.8M1109.25 603.55h12.8M1109.25 608.45h12.8M1249.25 602.1h12.8M1249.25 632.5h12.8M1389.25 736.2h12.8M1389.25 761.7h12.8M1529.25 685.75h12.8M1529.25 707.25h12.8M1669.25 680.65h12.8M1669.25 699.05h12.8"/>
</g>
<g fill="#00f">
<circle cx="1038.75" cy="620.2" r="2"/>
<circle cx="1178.75" cy="678.2" r="2"/>
<circle cx="1318.75" cy="769.95" r="2"/>
<circle cx="1458.75" cy="731.9" r="2"/>
<circle cx="1598.75" cy="728.05" r="2"/>
<circle cx="1054.13" cy="619.75" r="2"/>
<circle cx="1194.13" cy="696.5" r="2"/>
<circle cx="1334.13" cy="755.75" r="2"/>
<circle cx="1474.13" cy="730.5" r="2"/>
<circle cx="1614.13" cy="728.25" r="2"/>
<circle cx="1069.51" cy="629.4" r="2"/>
<circle cx="1209.51" cy="595.85" r="2"/>
<circle cx="1349.51" cy="904.1" r="2"/>
<circle cx="1489.51" cy="842.95" r="2"/>
<circle cx="1629.51" cy="801.5" r="2"/>
<circle cx="1084.89" cy="630.8" r="2"/>
<circle cx="1224.89" cy="608.45" r="2"/>
<circle cx="1364.89" cy="897.45" r="2"/>
<circle cx="1504.89" cy="873.05" r="2"/>
<circle cx="1644.89" cy="798.2" r="2"/>
<circle cx="1100.27" cy="621.65" r="2"/>
<circle cx="1240.27" cy="656.1" r="2"/>
<circle cx="1380.27" cy="794.8" r="2"/>
<circle cx="1520.27" cy="766.1" r="2"/>
<circle cx="1660.27" cy="734.2" r="2"/>
<circle cx="1115.65" cy="606" r="2"/>
<circle cx="1255.65" cy="617.3" r="2"/>
<circle cx="1395.65" cy="748.95" r="2"/>
<circle cx="1535.65" cy="696.5" r="2"/>
<circle cx="1675.65" cy="689.85" r="2"/>
</g>
<path d="M1077.2 1006.35v4.6M1217.2 1006.35v4.6M1357.2 1006.35v4.6M1497.2 1006.35v4.6M1637.2 1006.35v4.6M999 1006.35h-4.6M999 921.08h-4.6M999 835.81h-4.6M999 750.54h-4.6M999 665.27h-4.6M999 579.5h-4.6" stroke="#000" stroke-width="1.18" fill="none"/>
<rect x="999" y="579.5" width="716.1" height="426.85" fill="none" stroke="#000" stroke-width="1.18"/>
<rect x="1372.9" y="590" width="335.4" height="81.9" rx="2.6" fill="#fff" fill-opacity="0.8" stroke="#d9d9d9" stroke-opacity="0.8" stroke-width="1.28"/>
<rect x="1378.25" y="597.4" width="38.75" height="13.7" fill="#1f77b4"/>
<rect x="1378.25" y="622.75" width="38.75" height="13.7" fill="#ff7f0e"/>
<rect x="1378.25" y="648" width="38.75" height="13.7" fill="#2ca02c"/>
<rect x="1499.5" y="597.4" width="38.75" height="13.7" fill="#d62728"/>
<rect x="1499.5" y="622.75" width="38.75" height="13.7" fill="#9467bd"/>
<rect x="1499.5" y="648" width="38.75" height="13.7" fill="#8c564b"/>
<g class="t">
<text transform="translate(1432.2 610.3) scale(0.93 1)" x="0 10.32" font-size="18.4"><tspan textLength="10.32" lengthAdjust="spacingAndGlyphs">R</tspan><tspan textLength="10.32" lengthAdjust="spacingAndGlyphs">F</tspan></text>
<text transform="translate(1432.2 635.6) scale(0.93 1)" x="0 10.32 20.65" font-size="18.4"><tspan textLength="10.32" lengthAdjust="spacingAndGlyphs">K</tspan><tspan textLength="10.32" lengthAdjust="spacingAndGlyphs">N</tspan><tspan textLength="10.32" lengthAdjust="spacingAndGlyphs">N</tspan></text>
<text transform="translate(1432.2 661.3) scale(0.93 1)" x="0 10.32 20.65" font-size="18.4"><tspan textLength="10.32" lengthAdjust="spacingAndGlyphs">S</tspan><tspan textLength="10.32" lengthAdjust="spacingAndGlyphs">V</tspan><tspan textLength="10.32" lengthAdjust="spacingAndGlyphs">M</tspan></text>
<text transform="translate(1554.2 610.3) scale(0.93 1)" x="0 10.32 20.65" font-size="18.4"><tspan textLength="10.32" lengthAdjust="spacingAndGlyphs">C</tspan><tspan textLength="10.32" lengthAdjust="spacingAndGlyphs">N</tspan><tspan textLength="10.32" lengthAdjust="spacingAndGlyphs">N</tspan></text>
<text transform="translate(1554.2 635.6) scale(0.93 1)" x="0.04 10.32 20.65 30.97" font-size="18.4">L<tspan textLength="10.32" lengthAdjust="spacingAndGlyphs">S</tspan><tspan textLength="10.32" lengthAdjust="spacingAndGlyphs">T</tspan><tspan textLength="10.32" lengthAdjust="spacingAndGlyphs">M</tspan></text>
<text transform="translate(1554.2 661.3) scale(0.93 1)" x="0 12.42 20.69 31.01 41.34 52.17 61.98 72.3 85.19 92.9 103.27 116.15 123.92 134.24 144.56" font-size="18.4"><tspan textLength="10.32" lengthAdjust="spacingAndGlyphs">P</tspan>roposed <tspan textLength="10.32" lengthAdjust="spacingAndGlyphs">M</tspan>ethod</text>
<text transform="translate(1357.05 570.9) scale(0.93 1)" x="-192.69 -178.17 -165.09 -148.6 -137.57 -123.11 -106.63 -92.87 -82.51 -66.01 -51.58 -41.29 -27.46 -10.29 0.07 13.83 27.6 44.77 59.21 68.89 86.06 99.82 110.18 123.94 141.11 151.4 165.16 178.99" font-size="24.5"><tspan textLength="13.76" lengthAdjust="spacingAndGlyphs">S</tspan>cores for <tspan textLength="13.76" lengthAdjust="spacingAndGlyphs">m</tspan>ethod in the <tspan textLength="13.76" lengthAdjust="spacingAndGlyphs">S</tspan><tspan textLength="13.76" lengthAdjust="spacingAndGlyphs">C</tspan>L</text>
<text transform="translate(1077.2 1032.35) scale(0.93 1)" x="-55.05 -40.53 -26.77 -13.69 2.8 13.83 28.28 42.05" font-size="24.5"><tspan textLength="13.76" lengthAdjust="spacingAndGlyphs">A</tspan>ccuracy</text>
<text transform="translate(1217.2 1032.35) scale(0.93 1)" x="-61.94 -45.37 -34.34 -19.89 -2.72 7.64 24.81 34.48 48.24" font-size="24.5"><tspan textLength="13.76" lengthAdjust="spacingAndGlyphs">P</tspan>recision</text>
<text transform="translate(1357.2 1032.35) scale(0.93 1)" x="-41.29 -27.46 -13.01 0.07 17.92 31.69" font-size="24.5"><tspan textLength="13.76" lengthAdjust="spacingAndGlyphs">R</tspan>ecall</text>
<text transform="translate(1497.2 1032.35) scale(0.93 1)" x="-13.76 0.07" font-size="24.5"><tspan textLength="13.76" lengthAdjust="spacingAndGlyphs">F</tspan>1</text>
<text transform="translate(1637.2 1032.35) scale(0.93 1)" x="-41.29 -29.25 -13.76 0.07 13.83 27.6" y="0 -3.55 0 0 0 0" font-size="24.5"><tspan textLength="13.76" lengthAdjust="spacingAndGlyphs">G</tspan><tspan textLength="17.2" lengthAdjust="spacingAndGlyphs">-</tspan><tspan textLength="13.76" lengthAdjust="spacingAndGlyphs">M</tspan>ean</text>
<text transform="translate(990 1015.15) scale(0.87 1)" x="-14.45" font-size="25.5">0</text>
<text transform="translate(990 929.88) scale(0.87 1)" x="-29.16 -14.45" font-size="25.5">20</text>
<text transform="translate(990 844.61) scale(0.87 1)" x="-29.16 -14.45" font-size="25.5">40</text>
<text transform="translate(990 759.34) scale(0.87 1)" x="-29.16 -14.45" font-size="25.5">60</text>
<text transform="translate(990 674.07) scale(0.87 1)" x="-29.16 -14.45" font-size="25.5">80</text>
<text transform="translate(990 588.3) scale(0.87 1)" x="-43.87 -29.16 -14.45" font-size="25.5">100</text>
<text transform="translate(943 793.17) rotate(-90) scale(0.93 1)" x="-55.05 -40.53 -27.46 -10.96 0.07 14.52 30.28 41.29" font-size="24.5"><tspan textLength="13.76" lengthAdjust="spacingAndGlyphs">S</tspan>cores<tspan textLength="8.26" lengthAdjust="spacingAndGlyphs" stroke-width="0.15">/</tspan><tspan textLength="13.76" lengthAdjust="spacingAndGlyphs">%</tspan></text>
</g>
</g>
</svg></body></html>
